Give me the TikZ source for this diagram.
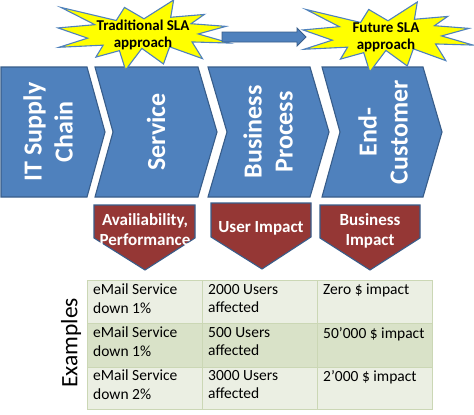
\documentclass[tikz,border=0pt]{standalone}
\usepackage{fontspec}
\setmainfont{Carlito}
\definecolor{cblue}{HTML}{4F81BD}
\definecolor{cbluedark}{HTML}{385D8A}
\definecolor{cred}{HTML}{953735}
\definecolor{cyellow}{HTML}{FFFF00}
\definecolor{rowlight}{HTML}{EBEFE3}
\definecolor{rowdark}{HTML}{D9E2C8}
\definecolor{gridc}{HTML}{CBD7B5}
\begin{document}
\begin{tikzpicture}[x=1pt,y=-1pt,
  chev/.style={fill=cblue,draw=cbluedark,line width=1.1pt,line join=miter},
  redbox/.style={fill=cred,draw=cbluedark,line width=1.1pt},
  burst/.style={fill=cyellow,draw=cblue,line width=1.1pt,line join=miter},
  chevtext/.style={text=white,font=\fontsize{26}{31}\selectfont\bfseries,align=center,rotate=90,inner sep=0pt},
  redtext/.style={text=white,font=\fontsize{17}{20}\selectfont\bfseries,align=center,inner sep=0pt},
  startext/.style={text=black,font=\fontsize{15}{17}\selectfont\bfseries,align=center,inner sep=0pt},
  celltext/.style={text=black,font=\fontsize{15.5}{18.5}\selectfont,align=left,anchor=north west,inner sep=0pt},
]
\useasboundingbox (0,0) rectangle (474,415);

% chevrons
\draw[chev] (1,67) -- (87,67) -- (105,132) -- (87,197) -- (1,197) -- cycle;
\draw[chev] (95,67) -- (198,67) -- (217,132) -- (198,197) -- (95,197) -- (113,132) -- cycle;
\draw[chev] (208,67) -- (310,67) -- (329,132) -- (310,197) -- (208,197) -- (227,132) -- cycle;
\draw[chev] (322,67) -- (423,67) -- (442,132) -- (423,197) -- (322,197) -- (340,132) -- cycle;

% explosions
\begin{scope}[shift={(58,0)},x=0.79630pt,y=-0.32407pt]
\draw[burst] (108,58) -- (145.22,0) -- (141.55,53.25) -- (183.80,44.57) -- (167.02,73.15) -- (210.97,81.37) -- (176.07,104.75) -- (216,132.90) -- (168.37,129.42) -- (181.45,180.95) -- (140.20,144.57) -- (132.47,197.37) -- (105.32,149.35) -- (84.85,216) -- (77.15,156.27) -- (47.62,176.17) -- (56.67,139.37) -- (1.35,145.87) -- (37.22,117.75) -- (0,86.15) -- (46.27,76.17) -- (3.70,22.95) -- (73.12,63.20) -- (83.52,22.95) -- cycle;
\end{scope}
\begin{scope}[shift={(303,2)},x=0.78704pt,y=-0.32407pt]
\draw[burst] (108,58) -- (145.22,0) -- (141.55,53.25) -- (183.80,44.57) -- (167.02,73.15) -- (210.97,81.37) -- (176.07,104.75) -- (216,132.90) -- (168.37,129.42) -- (181.45,180.95) -- (140.20,144.57) -- (132.47,197.37) -- (105.32,149.35) -- (84.85,216) -- (77.15,156.27) -- (47.62,176.17) -- (56.67,139.37) -- (1.35,145.87) -- (37.22,117.75) -- (0,86.15) -- (46.27,76.17) -- (3.70,22.95) -- (73.12,63.20) -- (83.52,22.95) -- cycle;
\end{scope}

% block arrow
\draw[chev,line width=0.9pt] (222,32) -- (297,32) -- (297,28) -- (306,37) -- (297,46) -- (297,42) -- (222,42) -- cycle;

\node[startext] (s1) at (143,35) {Traditional SLA\\approach};
\node[startext] (s2) at (386,37) {Future SLA\\approach};

% chevron labels
\node[chevtext] (c1) at (48,132) {IT Supply\\Chain};
\node[chevtext] (c2) at (156,132) {Service};
\node[chevtext] (c3) at (268,132) {Business\\Process};
\node[chevtext] (c4) at (383,132) {End-\\Customer};

% red pentagons
\draw[redbox] (94,205) -- (195,205) -- (195,238) -- (145,270) -- (94,238) -- cycle;
\draw[redbox] (211,203) -- (311,203) -- (311,237) -- (262,269) -- (211,237) -- cycle;
\draw[redbox] (320,205) -- (420,205) -- (420,238) -- (370,270) -- (320,238) -- cycle;
\node[redtext] (r1) at (145,230) {Availiability,\\Performance};
\node[redtext] (r2) at (261,228) {User Impact};
\node[redtext] (r3) at (370,231) {Business\\Impact};

% table
\fill[rowlight] (87,280) rectangle (432,323);
\fill[rowdark] (87,323) rectangle (432,367);
\fill[rowlight] (87,367) rectangle (432,409);
\draw[gridc,line width=0.8pt] (87,280) rectangle (432,409);
\draw[gridc,line width=0.8pt] (87,323) -- (432,323) (87,367) -- (432,367)
  (202,280) -- (202,409) (317,280) -- (317,409);

\node[text=black,font=\fontsize{23.5}{28}\selectfont,rotate=90,inner sep=0pt] (ex) at (71,343) {Examples};

\node[celltext] (a1) at (93,284) {eMail Service\\down 1\%};
\node[celltext] (b1) at (208,284) {2000 Users\\affected};
\node[celltext] (d1) at (323,284) {Zero \$ impact};
\node[celltext] (a2) at (93,327) {eMail Service\\down 1\%};
\node[celltext] (b2) at (208,327) {500 Users\\affected};
\node[celltext] (d2) at (323,327) {50’000 \$ impact};
\node[celltext] (a3) at (93,370) {eMail Service\\down 2\%};
\node[celltext] (b3) at (208,370) {3000 Users\\affected};
\node[celltext] (d3) at (323,370) {2’000 \$ impact};
\end{tikzpicture}
\end{document}
